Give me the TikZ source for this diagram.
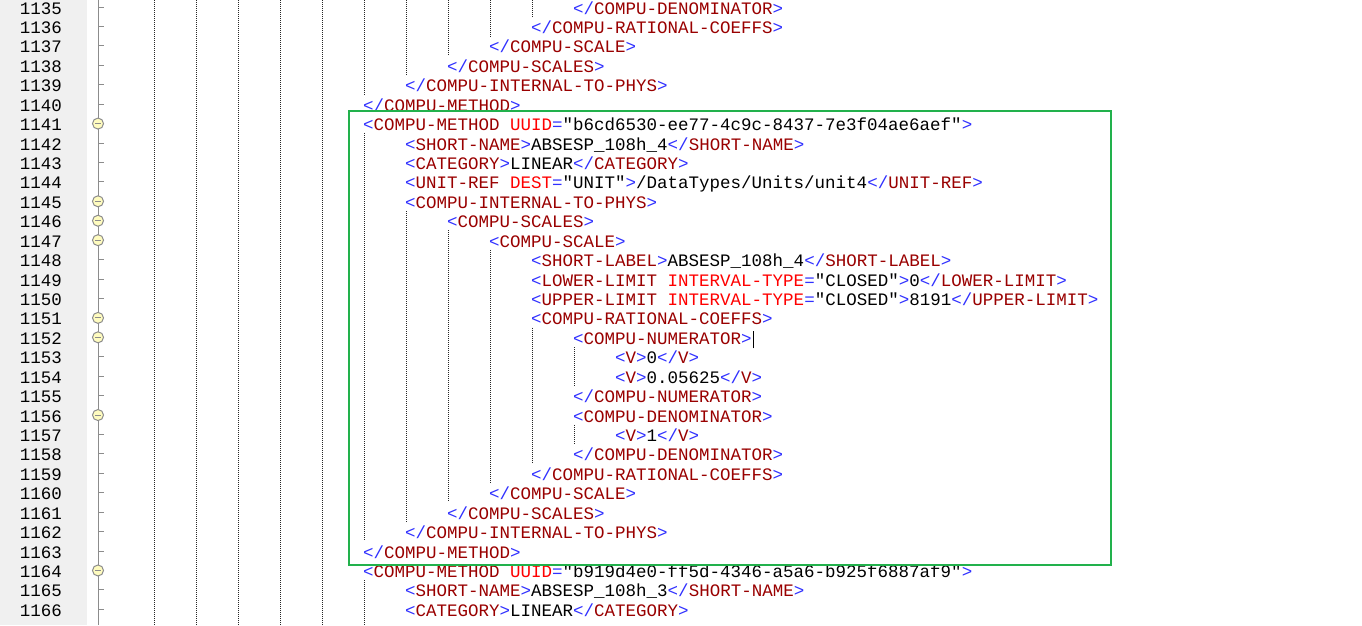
\documentclass[tikz,border=0pt]{standalone}
\usepackage{fontspec}
\setmonofont{Liberation Mono}
\definecolor{br}{HTML}{3030FF}
\definecolor{tn}{HTML}{990000}
\definecolor{an}{HTML}{FF0000}
\definecolor{gbox}{HTML}{22B14C}
\newcommand\op[1]{{\color{br}<}{\color{tn}#1}{\color{br}>}}
\newcommand\cl[1]{{\color{br}</}{\color{tn}#1}{\color{br}>}}
\newcommand\opa[3]{{\color{br}<}{\color{tn}#1} {\color{an}#2}{\color{br}=}"#3"{\color{br}>}}
\newcommand\LnY[1]{(7+(#1-1135)*19.43)}
\newcommand\Ln[3]{\node[code] (l#1) at ({154+42*#2-1},{\LnY{#1}+7}) {#3};
  \node[lnum] (n#1) at (62,{\LnY{#1}+7}) {#1};}
\newcommand\Gd[3]{\draw[guide] ({154+42*#1},{\LnY{#2}-9.7}) -- ({154+42*#1},{\LnY{#3}+9.7});}
\newcommand\Tk[1]{\draw[fold] (98,{\LnY{#1}}) -- (104,{\LnY{#1}});}
\newcommand\Fd[1]{\draw[fold,fill=yellow!25] (98,{\LnY{#1}}) circle (5.5);
  \draw[fold] (95,{\LnY{#1}}) -- (101,{\LnY{#1}});}
\begin{document}
\begin{tikzpicture}[x=1pt,y=-1pt,
  code/.style={anchor=base west,inner sep=0,font=\ttfamily\fontsize{17.5}{19}\selectfont},
  lnum/.style={anchor=base east,inner sep=0,font=\ttfamily\fontsize{17.5}{19}\selectfont},
  guide/.style={draw=black!85,line width=0.9pt,dash pattern=on 1pt off 1pt},
  fold/.style={draw=black!45,line width=1pt}]
\useasboundingbox (0,0) rectangle (1362,625);
\fill[black!6] (0,0) rectangle (87,625);
\draw[fold] (98,0) -- (98,625);
\foreach \k in {0,...,4}{\Gd{\k}{1134}{1167}}
\Gd{5}{1134}{1139}\Gd{6}{1134}{1138}\Gd{7}{1134}{1137}\Gd{8}{1134}{1136}\Gd{9}{1134}{1135}
\Gd{5}{1142}{1162}\Gd{6}{1146}{1161}\Gd{7}{1147}{1160}\Gd{8}{1148}{1159}
\Gd{9}{1152}{1158}\Gd{10}{1153}{1154}\Gd{10}{1157}{1157}\Gd{5}{1165}{1167}
\foreach \t in {1135,...,1140,1142,1143,1144,1148,1149,1150,1153,1154,1155,1157,1158,1159,1160,1161,1162,1163,1165,1166}{\Tk{\t}}
\foreach \t in {1141,1145,1146,1147,1151,1152,1156,1164}{\Fd{\t}}
\Ln{1135}{10}{\cl{COMPU-DENOMINATOR}}
\Ln{1136}{9}{\cl{COMPU-RATIONAL-COEFFS}}
\Ln{1137}{8}{\cl{COMPU-SCALE}}
\Ln{1138}{7}{\cl{COMPU-SCALES}}
\Ln{1139}{6}{\cl{COMPU-INTERNAL-TO-PHYS}}
\Ln{1140}{5}{\cl{COMPU-METHOD}}
\Ln{1141}{5}{\opa{COMPU-METHOD}{UUID}{b6cd6530-ee77-4c9c-8437-7e3f04ae6aef}}
\Ln{1142}{6}{\op{SHORT-NAME}ABSESP\_108h\_4\cl{SHORT-NAME}}
\Ln{1143}{6}{\op{CATEGORY}LINEAR\cl{CATEGORY}}
\Ln{1144}{6}{\opa{UNIT-REF}{DEST}{UNIT}/DataTypes/Units/unit4\cl{UNIT-REF}}
\Ln{1145}{6}{\op{COMPU-INTERNAL-TO-PHYS}}
\Ln{1146}{7}{\op{COMPU-SCALES}}
\Ln{1147}{8}{\op{COMPU-SCALE}}
\Ln{1148}{9}{\op{SHORT-LABEL}ABSESP\_108h\_4\cl{SHORT-LABEL}}
\Ln{1149}{9}{\opa{LOWER-LIMIT}{INTERVAL-TYPE}{CLOSED}0\cl{LOWER-LIMIT}}
\Ln{1150}{9}{\opa{UPPER-LIMIT}{INTERVAL-TYPE}{CLOSED}8191\cl{UPPER-LIMIT}}
\Ln{1151}{9}{\op{COMPU-RATIONAL-COEFFS}}
\Ln{1152}{10}{\op{COMPU-NUMERATOR}}
\Ln{1153}{11}{\op{V}0\cl{V}}
\Ln{1154}{11}{\op{V}0.05625\cl{V}}
\Ln{1155}{10}{\cl{COMPU-NUMERATOR}}
\Ln{1156}{10}{\op{COMPU-DENOMINATOR}}
\Ln{1157}{11}{\op{V}1\cl{V}}
\Ln{1158}{10}{\cl{COMPU-DENOMINATOR}}
\Ln{1159}{9}{\cl{COMPU-RATIONAL-COEFFS}}
\Ln{1160}{8}{\cl{COMPU-SCALE}}
\Ln{1161}{7}{\cl{COMPU-SCALES}}
\Ln{1162}{6}{\cl{COMPU-INTERNAL-TO-PHYS}}
\Ln{1163}{5}{\cl{COMPU-METHOD}}
\Ln{1164}{5}{\opa{COMPU-METHOD}{UUID}{b919d4e0-ff5d-4346-a5a6-b925f6887af9}}
\Ln{1165}{6}{\op{SHORT-NAME}ABSESP\_108h\_3\cl{SHORT-NAME}}
\Ln{1166}{6}{\op{CATEGORY}LINEAR\cl{CATEGORY}}
\draw[black,line width=1pt] ([xshift=2pt]l1152.base east) ++(0,4) -- ++(0,-17);
\draw[gbox,line width=2pt] (349,111) rectangle (1111,565);
\end{tikzpicture}
\end{document}
